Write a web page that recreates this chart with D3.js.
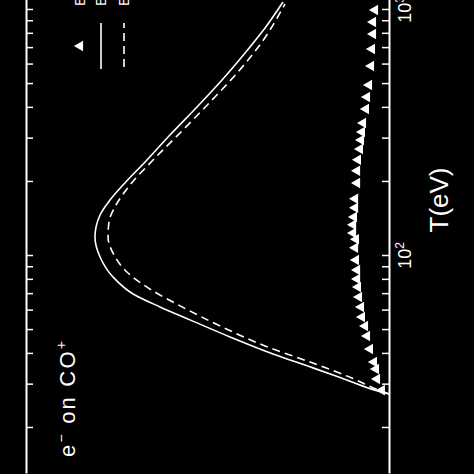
<!DOCTYPE html>
<html>
<head>
<meta charset="utf-8" />
<title>e- on CO+ ionization</title>
<script src="https://d3js.org/d3.v7.min.js"></script>
<style>
  body, html { margin: 0; background: #000; }
  svg { display: block; background: #000; }
  text { font-family: 'Liberation Sans', Arial, sans-serif; fill: #fff; }
</style>
</head>
<body>
<svg id="viz"></svg>
<script>
// rate coefficient vs electron temperature (arb. units)
var solidT = [27.5, 28.5, 31.0, 35.1, 40.0, 46.9, 55.0, 62.1, 70.1, 82.2, 99.1, 119.5, 146.8, 168.9, 198.1, 241.1, 310.4, 403.4, 519.3, 668.7, 845.1, 1078];
var solidV = [0, 0.077, 0.215, 0.419, 0.639, 0.876, 1.096, 1.262, 1.410, 1.521, 1.592, 1.620, 1.592, 1.537, 1.455, 1.344, 1.207, 1.058, 0.920, 0.793, 0.683, 0.584];

var dashT = [27.5, 28.8, 31.9, 36.7, 43.1, 51.5, 62.1, 73.4, 85.3, 101.0, 119.5, 137.5, 161.2, 194.4, 245.6, 325.3, 430.7, 559.8, 741.3, 1058];
var dashV = [0, 0.072, 0.204, 0.419, 0.683, 0.920, 1.140, 1.317, 1.438, 1.515, 1.548, 1.543, 1.504, 1.427, 1.300, 1.135, 0.975, 0.832, 0.700, 0.573];

var expT = [28.5, 31.6, 34.7, 37.1, 41.9, 47.3, 51.9, 56.5, 62.1, 68.1, 74.8, 80.7, 87.7, 96.3, 108, 117, 124, 134, 144, 157, 171, 198, 222, 246, 272, 296, 319, 347, 396, 443, 496, 592, 694, 799, 893, 1000];
var expV = [0.039, 0.066, 0.072, 0.083, 0.105, 0.121, 0.132, 0.149, 0.154, 0.165, 0.171, 0.176, 0.176, 0.182, 0.187, 0.182, 0.198, 0.198, 0.193, 0.187, 0.187, 0.176, 0.176, 0.171, 0.160, 0.154, 0.149, 0.143, 0.127, 0.121, 0.110, 0.099, 0.094, 0.088, 0.088, 0.077];

var majorTicks = [100, 1000];
var majorExp = ["2", "3"];
var legendLabels = ["Expt.", "EA", "EA scaled"];

var size = 474;
var axisV = 389, topV = 26;

var svg = d3.select("#viz").attr("width", size).attr("height", size);

// the figure is drawn normally, then turned a quarter turn counter-clockwise
var g = svg.append("g").attr("transform", "translate(0," + size + ") rotate(-90)");

var xScale = d3.scaleLog().domain([13, 1098]).range([0, size]);
var yScale = d3.scaleLinear().domain([0, 2]).range([axisV, topV]);

var fmt = function(d) {
  return majorTicks.indexOf(d) < 0 ? "" : "10";
};

var xAxis = g.append("g")
  .attr("transform", "translate(0," + axisV + ")")
  .call(d3.axisBottom(xScale).tickSizeInner(-7).tickSizeOuter(0).tickPadding(9).tickFormat(fmt));

var topAxis = g.append("g")
  .attr("transform", "translate(0," + topV + ")")
  .call(d3.axisTop(xScale).tickSizeInner(-7).tickSizeOuter(0).tickFormat(""));

[xAxis, topAxis].forEach(function(a) {
  a.select(".domain").attr("stroke", "#fff").attr("stroke-width", 2);
  a.selectAll(".tick line").attr("stroke", "#fff").attr("stroke-width", 1.5);
});

xAxis.selectAll(".tick text")
  .attr("fill", "#fff")
  .style("font-size", "18px")
  .each(function(d) {
    var i = majorTicks.indexOf(d);
    if (i >= 0) {
      d3.select(this).append("tspan")
        .attr("dy", "-7px")
        .style("font-size", "12px")
        .text(majorExp[i]);
    }
  });

var line = d3.line()
  .x(function(d) { return xScale(d[0]); })
  .y(function(d) { return yScale(d[1]); })
  .curve(d3.curveMonotoneX);

g.append("path")
  .datum(d3.zip(solidT, solidV))
  .attr("d", line)
  .attr("fill", "none")
  .attr("stroke", "#fff")
  .attr("stroke-width", 1.6);

g.append("path")
  .datum(d3.zip(dashT, dashV))
  .attr("d", line)
  .attr("fill", "none")
  .attr("stroke", "#fff")
  .attr("stroke-width", 1.6)
  .attr("stroke-dasharray", "8,5");

var tri = d3.symbol(d3.symbolTriangle, 48);

g.selectAll("path.exp")
  .data(d3.zip(expT, expV))
  .join("path")
  .attr("class", "exp")
  .attr("transform", function(d) { return "translate(" + xScale(d[0]) + "," + yScale(d[1]) + ")"; })
  .attr("d", tri)
  .attr("fill", "#fff");

// axis title
g.append("text")
  .attr("x", 274)
  .attr("y", 448)
  .attr("text-anchor", "middle")
  .style("font-size", "26px")
  .text("T(eV)");

// system label
var lab = g.append("text")
  .attr("x", 17)
  .attr("y", 75)
  .style("font-size", "22px")
  .style("letter-spacing", "2.2px");
lab.append("tspan").text("e");
lab.append("tspan").attr("dy", "-9px").style("font-size", "14px").text("\u2212");
lab.append("tspan").attr("dy", "9px").text(" on CO");
lab.append("tspan").attr("dy", "-9px").style("font-size", "14px").text("+");

// legend
var legU0 = 405, legU1 = 451, legRows = [80, 101, 124];

g.append("path")
  .attr("transform", "translate(" + (legU0 + legU1) / 2 + "," + legRows[0] + ")")
  .attr("d", tri)
  .attr("fill", "#fff");

g.append("line")
  .attr("x1", legU0).attr("x2", legU1)
  .attr("y1", legRows[1]).attr("y2", legRows[1])
  .attr("stroke", "#fff").attr("stroke-width", 1.6);

g.append("line")
  .attr("x1", legU0 + 2).attr("x2", legU1)
  .attr("y1", legRows[2]).attr("y2", legRows[2])
  .attr("stroke", "#fff").attr("stroke-width", 1.6)
  .attr("stroke-dasharray", "8,5");

g.selectAll("text.leg")
  .data(legendLabels)
  .join("text")
  .attr("class", "leg")
  .attr("x", 468)
  .attr("y", function(d, i) { return legRows[i]; })
  .attr("dy", "0.35em")
  .style("font-size", "15px")
  .text(function(d) { return d; });
</script>
</body>
</html>
